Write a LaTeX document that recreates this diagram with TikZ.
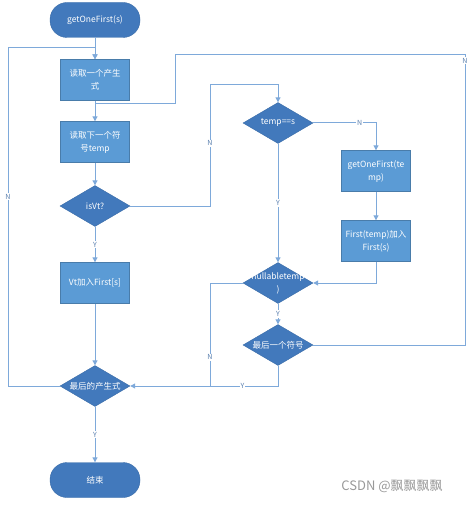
\documentclass[tikz,border=0pt]{standalone}
\usepackage{fontspec}
\usepackage{xcolor}
\usepackage{tikz}
\usetikzlibrary{shapes.geometric,arrows.meta}
\newfontfamily\cjkfont{Noto Sans CJK SC}
\definecolor{termcolor}{HTML}{4279BC}
\definecolor{boxcolor}{HTML}{5B9BD5}
\definecolor{edgecolor}{HTML}{3A6CA8}
\definecolor{linecolor}{HTML}{7EA9DA}
\definecolor{labcolor}{HTML}{5A7FAE}

\begin{document}
\begin{tikzpicture}[x=1pt, y=-1pt,
  term/.style={draw=edgecolor, rectangle, rounded corners=17pt, minimum width=90pt, minimum height=35pt, fill=termcolor, text=white, font=\cjkfont\fontsize{8.5pt}{10pt}\selectfont},
  procbox/.style={draw=boxcolor!80!black, rectangle, minimum width=69pt, minimum height=41pt, fill=boxcolor, text=white, align=center, font=\cjkfont\fontsize{8.5pt}{13pt}\selectfont},
  decide/.style={draw=edgecolor, diamond, minimum width=70pt, minimum height=41pt, inner sep=0pt, fill=termcolor, label={[text=white, align=center, font=\cjkfont\fontsize{8.5pt}{13pt}\selectfont]center:{#1}}},
  conn/.style={draw=linecolor, line width=1pt},
  arr/.style={conn, -{Triangle[length=5pt, width=5pt]}},
  lab/.style={fill=white, inner sep=1pt, text=labcolor, font=\cjkfont\fontsize{7pt}{8pt}\selectfont}]%
\useasboundingbox (0,0) rectangle (474,505);%
% left column
\node[term] (start) at (95, 20) {getOneFirst(s)};%
\node[procbox] (readprod) at (95, 80) {读取一个产生\\式};%
\node[procbox] (readsym) at (95, 142) {读取下一个符\\号temp};%
\node[decide=isVt?] (isvt) at (95, 206) {};%
\node[procbox] (addvt) at (95, 283) {Vt加入First[s]};%
\node[decide=最后的产生式] (lastprod) at (95, 386) {};%
\node[term] (finish) at (95, 480) {结束};%
% right column
\node[decide={temp==s}] (teq) at (278, 123) {};%
\node[procbox] (recur) at (376, 171) {getOneFirst(te\\mp)};%
\node[procbox] (addfirst) at (376, 241) {First(temp)加入\\First(s)};%
\node[decide={nullabletemp\\)}] (nullable) at (278, 283) {};%
\node[decide=最后一个符号] (lastsym) at (278, 345) {};%
% bend points
\coordinate (loopprod) at (8, 48);%
\coordinate (loopvt) at (210, 85);%
\coordinate (loopsym) at (465, 55);%
\coordinate (loopback) at (175, 104);%
% connectors
\draw[arr] (start) -- (readprod);%
\draw[arr] (readprod) -- (readsym);%
\draw[arr] (readsym) -- (isvt);%
\draw[arr] (isvt) -- node[lab] {Y} (addvt);%
\draw[arr] (addvt) -- (lastprod);%
\draw[arr] (lastprod) -- node[lab] {Y} (finish);%
\draw[arr] (lastprod.west) -| node[lab, pos=0.78] {N} (loopprod) -| (readprod.north);%
\draw[arr] (isvt.east) -| node[lab, pos=0.76] {N} (loopvt) -| (teq.north);%
\draw[arr] (teq.east) -| node[lab, pos=0.37] {N} (recur.north);%
\draw[arr] (recur) -- (addfirst);%
\draw[arr] (addfirst.south) |- (nullable.east);%
\draw[arr] (teq) -- node[lab] {Y} (nullable);%
\draw[arr] (nullable) -- node[lab] {Y} (lastsym);%
\draw[conn] (lastsym.east) -| node[lab, pos=0.99] {N} (loopsym) -| (loopback) -- (readprod.south |- loopback);%
\draw[arr] (lastsym.south) |- node[lab, pos=0.62] {Y} (lastprod.east);%
\draw[conn] (nullable.west) -| node[lab, pos=0.86] {N} (loopvt |- lastprod.east);%
% watermark
\node[text=black!40, font=\cjkfont\fontsize{13pt}{15pt}\selectfont] (mark) at (392, 486) {CSDN @飘飘飘飘};%
\end{tikzpicture}
\end{document}
